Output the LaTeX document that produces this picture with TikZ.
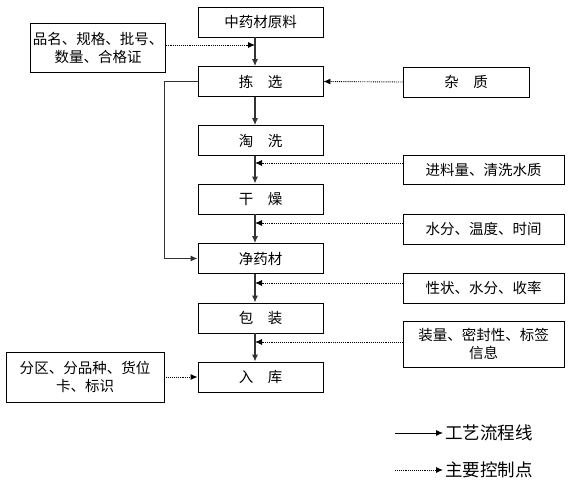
\documentclass[tikz,border=0pt]{standalone}
\usepackage{fontspec}
\setmainfont{Noto Sans CJK SC}
\usepackage{tikz}
\usetikzlibrary{arrows.meta,positioning,calc}

\begin{document}
\begin{tikzpicture}[
  x=1pt, y=-1pt,
  stepbox/.style={draw, line width=0.9pt, minimum width=125pt, minimum height=30pt, inner sep=0pt, align=center, font=\fontsize{14.5}{18}\selectfont},
  ctrlbox/.style={draw, line width=0.9pt, minimum height=30pt, inner sep=2pt, align=center, font=\fontsize{14.5}{18}\selectfont},
  flow/.style={-{Latex[length=7pt,width=6pt]}, line width=1.1pt, black!80},
  ctrl/.style={-{Latex[length=7pt,width=6pt]}, line width=0.9pt, densely dotted},
  legend/.style={anchor=west, inner sep=0pt, font=\fontsize{17.5}{20}\selectfont},
]
  \useasboundingbox (0,0) rectangle (569,484);

  % main process
  \node[stepbox] (m1) at (260.5,22) {中药材原料};
  \node[stepbox] (m2) at (260.5,81.5) {拣\hspace{1em}选};
  \node[stepbox] (m3) at (260.5,140.5) {淘\hspace{1em}洗};
  \node[stepbox] (m4) at (260.5,199) {干\hspace{1em}燥};
  \node[stepbox] (m5) at (260.5,258.5) {净药材};
  \node[stepbox] (m6) at (260.5,318) {包\hspace{1em}装};
  \node[stepbox] (m7) at (260.5,377) {入\hspace{1em}库};

  % control points
  \node[ctrlbox, minimum width=132pt, minimum height=49pt] (l1) at (98,47.5) {品名、规格、批号、\\数量、合格证};
  \node[ctrlbox, minimum width=158pt, minimum height=50pt] (l2) at (85,377) {分区、分品种、货位\\卡、标识};
  \node[ctrlbox, minimum width=126pt] (r1) at (466,82) {杂\hspace{1em}质};
  \node[ctrlbox, minimum width=161pt, minimum height=29pt] (r2) at (483.5,169.5) {进料量、清洗水质};
  \node[ctrlbox, minimum width=161pt] (r3) at (483.5,229) {水分、温度、时间};
  \node[ctrlbox, minimum width=161pt] (r4) at (483.5,288) {性状、水分、收率};
  \node[ctrlbox, minimum width=161pt, minimum height=46pt] (r5) at (483.5,344) {装量、密封性、标签\\信息};

  \coordinate (k1) at (255,45);
  \coordinate (k2) at (255,163);
  \coordinate (k3) at (255,223);
  \coordinate (k4) at (255,283);
  \coordinate (k5) at (255,342);

  \draw[flow] ([xshift=-5.5pt]m1.south) -- ([xshift=-5.5pt]m2.north);
  \draw[flow] ([xshift=-5.5pt]m2.south) -- ([xshift=-5.5pt]m3.north);
  \draw[flow] ([xshift=-5.5pt]m3.south) -- ([xshift=-5.5pt]m4.north);
  \draw[flow] ([xshift=-5.5pt]m4.south) -- ([xshift=-5.5pt]m5.north);
  \draw[flow] ([xshift=-5.5pt]m5.south) -- ([xshift=-5.5pt]m6.north);
  \draw[flow] ([xshift=-5.5pt]m6.south) -- ([xshift=-5.5pt]m7.north);
  \draw[flow] (m2.west) -- ++(-33,0) |- (m5.west);

  \draw[ctrl] (l1.east |- k1) -- (k1);
  \draw[ctrl] (r1.west) -- (m2.east);
  \draw[ctrl] (r2.west |- k2) -- (k2);
  \draw[ctrl] (r3.west |- k3) -- (k3);
  \draw[ctrl] (r4.west |- k4) -- (k4);
  \draw[ctrl] (r5.west |- k5) -- (k5);
  \draw[ctrl] (l2.east) -- (m7.west);

  % legend
  \coordinate (g1) at (395,433);
  \coordinate (g2) at (395,470);
  \node[legend] (t1) at (445,433) {工艺流程线};
  \node[legend] (t2) at (445,470) {主要控制点};
  \draw[flow, black, line width=0.9pt] (g1) -- ([xshift=-2pt]t1.west);
  \draw[ctrl] (g2) -- ([xshift=-2pt]t2.west);
\end{tikzpicture}
\end{document}
